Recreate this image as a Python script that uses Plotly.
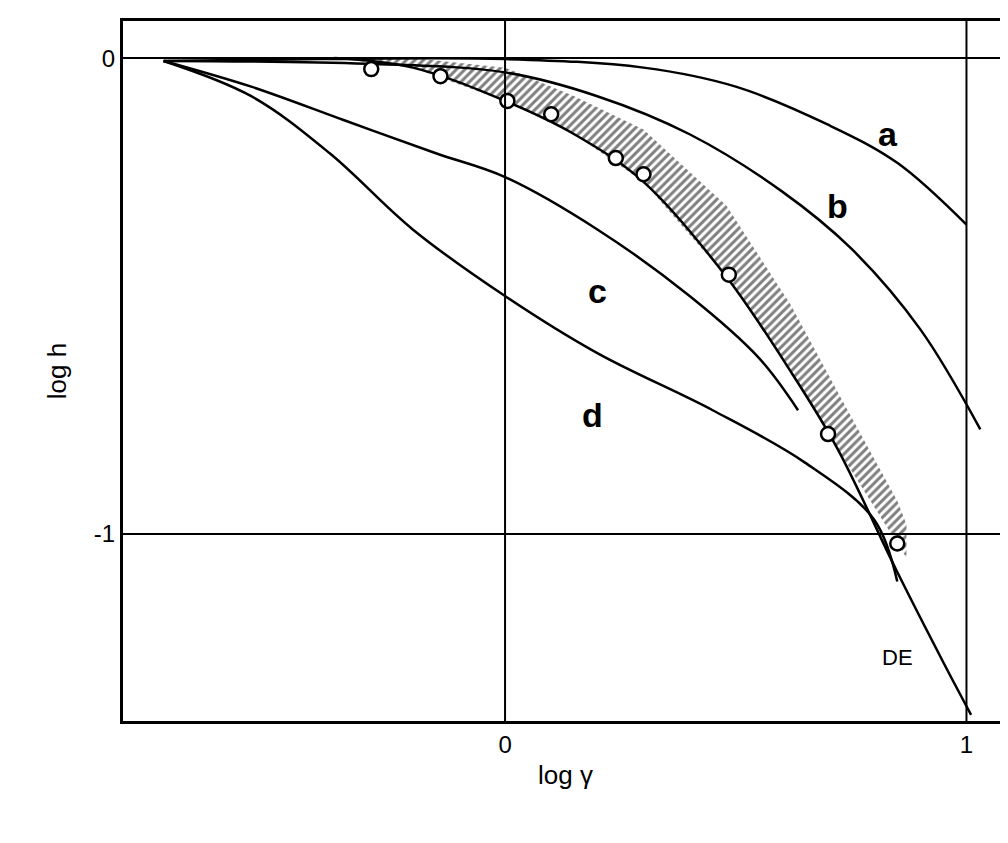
import plotly.graph_objects as go

# data (log gamma, log h)
a_x = [-0.74, -0.4, 0.0, 0.3, 0.5, 0.7, 0.85, 1.0]
a_y = [-0.006, -0.002, -0.002, -0.02, -0.06, -0.14, -0.22, -0.35]
b_x = [-0.74, -0.3, 0.0, 0.2, 0.4, 0.6, 0.75, 0.9, 1.03]
b_y = [-0.006, -0.012, -0.03, -0.08, -0.16, -0.28, -0.40, -0.57, -0.78]
c_x = [-0.74, -0.55, -0.35, -0.15, 0.0, 0.2, 0.4, 0.55, 0.635]
c_y = [-0.006, -0.06, -0.13, -0.2, -0.25, -0.36, -0.5, -0.63, -0.74]
d_x = [-0.74, -0.55, -0.38, -0.2, 0.0, 0.2, 0.45, 0.65, 0.8, 0.85]
d_y = [-0.006, -0.08, -0.2, -0.36, -0.5, -0.62, -0.74, -0.85, -0.97, -1.1]
de_x = [-0.37, -0.2, 0.0, 0.15, 0.3, 0.48, 0.62, 0.72, 0.85, 0.95, 1.01]
de_y = [0.0, -0.02, -0.09, -0.16, -0.26, -0.46, -0.66, -0.82, -1.08, -1.27, -1.38]
band_x = [-0.37, -0.2, 0.0, 0.15, 0.3, 0.48, 0.62, 0.72, 0.85, 0.87]
band_hi = [0.0, 0.0, -0.02, -0.08, -0.15, -0.31, -0.52, -0.7, -0.93, -0.98]
band_lo = [0.0, -0.02, -0.09, -0.16, -0.26, -0.46, -0.66, -0.82, -1.02, -1.05]
pts_x = [-0.29, -0.14, 0.005, 0.1, 0.24, 0.3, 0.485, 0.7, 0.85]
pts_y = [-0.023, -0.038, -0.09, -0.118, -0.21, -0.244, -0.455, -0.79, -1.02]

fig = go.Figure()
fig.add_trace(go.Scatter(x=band_x, y=band_lo, mode="lines", line=dict(width=0), showlegend=False))
fig.add_trace(go.Scatter(x=band_x, y=band_hi, mode="lines", line=dict(width=0), fill="tonexty",
                         fillcolor="rgba(0,0,0,0)",
                         fillpattern=dict(shape="/", fgcolor="black", bgcolor="white", size=6, solidity=0.5),
                         showlegend=False))
for xs, ys in [(a_x, a_y), (b_x, b_y), (c_x, c_y), (d_x, d_y), (de_x, de_y)]:
    fig.add_trace(go.Scatter(x=xs, y=ys, mode="lines", line=dict(color="black", width=2.5, shape="spline"),
                             showlegend=False))
fig.add_trace(go.Scatter(x=pts_x, y=pts_y, mode="markers",
                         marker=dict(size=14, color="white", line=dict(color="black", width=2.5)), showlegend=False))

for v in [0, 1]:
    fig.add_shape(type="line", x0=v, x1=v, y0=-1.393, y1=0.078, line=dict(color="black", width=2))
for v in [0, -1]:
    fig.add_shape(type="line", x0=-0.828, x1=1.09, y0=v, y1=v, line=dict(color="black", width=2))

labs = [("a", 0.83, -0.16, True), ("b", 0.72, -0.31, True), ("c", 0.2, -0.49, True),
        ("d", 0.19, -0.75, True), ("DE", 0.85, -1.26, False)]
for t, x, y, b in labs:
    fig.add_annotation(x=x, y=y, text=f"<b>{t}</b>" if b else t, showarrow=False,
                       font=dict(size=34 if b else 22, color="black", family="Liberation Sans"))

fig.update_layout(width=1008, height=843, plot_bgcolor="white", paper_bgcolor="white",
                  margin=dict(l=115, r=5, t=13, b=130),
                  font=dict(family="Liberation Sans", size=24, color="black"))
fig.update_xaxes(range=[-0.828, 1.09], tickvals=[0, 1], ticktext=["0", "1"], showgrid=False, zeroline=False,
                 showline=True, mirror=True, linecolor="black", linewidth=3, ticks="",
                 title=dict(text="log γ", standoff=10, font=dict(size=26)))
fig.update_yaxes(range=[-1.393, 0.078], tickvals=[0, -1], ticktext=["0", "-1"], showgrid=False, zeroline=False,
                 showline=True, mirror=True, linecolor="black", linewidth=3, ticks="",
                 title=dict(text="log h", standoff=20, font=dict(size=26)))
fig.write_html("out.html")
